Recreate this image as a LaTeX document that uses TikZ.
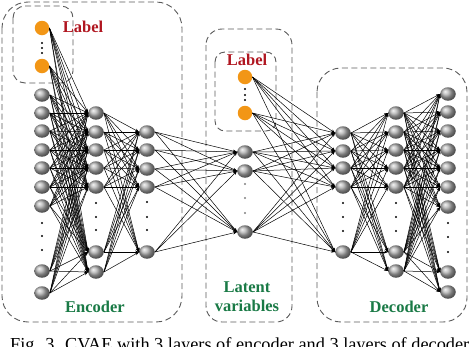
\documentclass[tikz,border=0pt]{standalone}
\usepackage{fontspec}
\setmainfont{Liberation Serif}
\usetikzlibrary{shapes.geometric,arrows.meta}
\definecolor{lblred}{RGB}{176,22,32}
\definecolor{txtgreen}{RGB}{26,122,70}
\definecolor{lblorange}{RGB}{242,150,22}
\definecolor{boxgray}{RGB}{90,90,90}
\tikzset{
  neuron/.style={ellipse, minimum width=15.5pt, minimum height=13.5pt, inner sep=0pt, shading=ball, ball color=gray!62},
  labnode/.style={circle, minimum size=14.5pt, inner sep=0pt, fill=lblorange},
  conn/.style={line width=0.5pt, -{Stealth[length=4pt,width=3pt]}},
  groupbox/.style={draw=boxgray, line width=0.9pt, dash pattern=on 6pt off 3.5pt},
  lbltext/.style={font=\fontsize{16.5}{17}\selectfont\bfseries, text=lblred, inner sep=0pt},
  grptext/.style={font=\fontsize{16.5}{19}\selectfont\bfseries, text=txtgreen, inner sep=0pt, align=center},
  vdot/.style={circle, fill=black, inner sep=0pt, minimum size=2.4pt}
}
\begin{document}
\begin{tikzpicture}[x=1pt,y=-1pt]
\useasboundingbox (0,0) rectangle (474,346);
\clip (0,0) rectangle (474,346);
% group boxes
\draw[groupbox, rounded corners=26pt] (2,2) rectangle (182,322);
\draw[groupbox, rounded corners=12pt] (13,6) rectangle (73,83);
\draw[groupbox, rounded corners=16pt] (206,29) rectangle (292,322);
\draw[groupbox, rounded corners=10pt] (215,52) rectangle (276,131);
\draw[groupbox, rounded corners=24pt] (317,68) rectangle (467,322);
% texts
\node[lbltext] (labA) at (83,27) {Label};
\node[lbltext] (labB) at (247,60) {Label};
\node[grptext] (enc) at (95,307) {Encoder};
\node[grptext] (lat) at (247,297) {Latent\\variables};
\node[grptext] (dec) at (399,307) {Decoder};
% encoder input
\foreach \y [count=\i] in {95,113,131,150,168,187,206,271,293}
  \node[neuron] (i\i) at (42,\y) {};
\node[labnode] (la1) at (42,28) {};
\node[labnode] (la2) at (42,66) {};
\foreach \y in {43,48,53} \node[vdot] at (42,\y) {};
\foreach \y in {223,236,250} \node[vdot] at (42,\y) {};
% encoder hidden 1
\foreach \y [count=\i] in {113,132,150,168,187,252,272}
  \node[neuron] (h\i) at (96,\y) {};
\foreach \y in {203,217,230} \node[vdot] at (96,\y) {};
% encoder hidden 2
\foreach \y [count=\i] in {132,150,169,187,252}
  \node[neuron] (g\i) at (147,\y) {};
\foreach \y in {202,217,230} \node[vdot] at (147,\y) {};
% latent
\foreach \y [count=\i] in {152,171,232}
  \node[neuron] (z\i) at (245,\y) {};
\foreach \y in {184,198,213} \node[vdot, fill=gray] at (245,\y) {};
\node[labnode] (lb1) at (245,77) {};
\node[labnode] (lb2) at (245,113) {};
\foreach \y in {89,95,100} \node[vdot] at (245,\y) {};
% decoder 1
\foreach \y [count=\i] in {133,151,168,187,252}
  \node[neuron] (d\i) at (343,\y) {};
\foreach \y in {203,217,231} \node[vdot] at (343,\y) {};
% decoder 2
\foreach \y [count=\i] in {113,132,150,168,187,252,271}
  \node[neuron] (e\i) at (396,\y) {};
\foreach \y in {203,217,231} \node[vdot] at (396,\y) {};
% output
\foreach \y [count=\i] in {94,112,131,150,168,187,207,272,292}
  \node[neuron] (o\i) at (448,\y) {};
\foreach \y in {223,237,252} \node[vdot] at (448,\y) {};
% connections
\foreach \s in {la1,la2,i1,i2,i3,i4,i5,i6,i7,i8,i9}
  \foreach \t in {1,...,7} \draw[conn] (\s.east) -- (h\t.west);
\foreach \s in {1,...,7}
  \foreach \t in {1,...,5} \draw[conn] (h\s.east) -- (g\t.west);
\foreach \s in {1,...,5}
  \foreach \t in {1,...,3} \draw[conn] (g\s.east) -- (z\t.west);
\foreach \s in {lb1,lb2,z1,z2,z3}
  \foreach \t in {1,...,5} \draw[conn] (\s.east) -- (d\t.west);
\foreach \s in {1,...,5}
  \foreach \t in {1,...,7} \draw[conn] (d\s.east) -- (e\t.west);
\foreach \s in {1,...,7}
  \foreach \t in {1,...,9} \draw[conn] (e\s.east) -- (o\t.west);
% caption (cut by the picture edge, as in the reference)
\node[anchor=north west, inner sep=0pt, font=\fontsize{18.3}{20}\selectfont] (cap) at (10,337.5) {Fig. 3. CVAE with 3 layers of encoder and 3 layers of decoder};
\end{tikzpicture}
\end{document}
